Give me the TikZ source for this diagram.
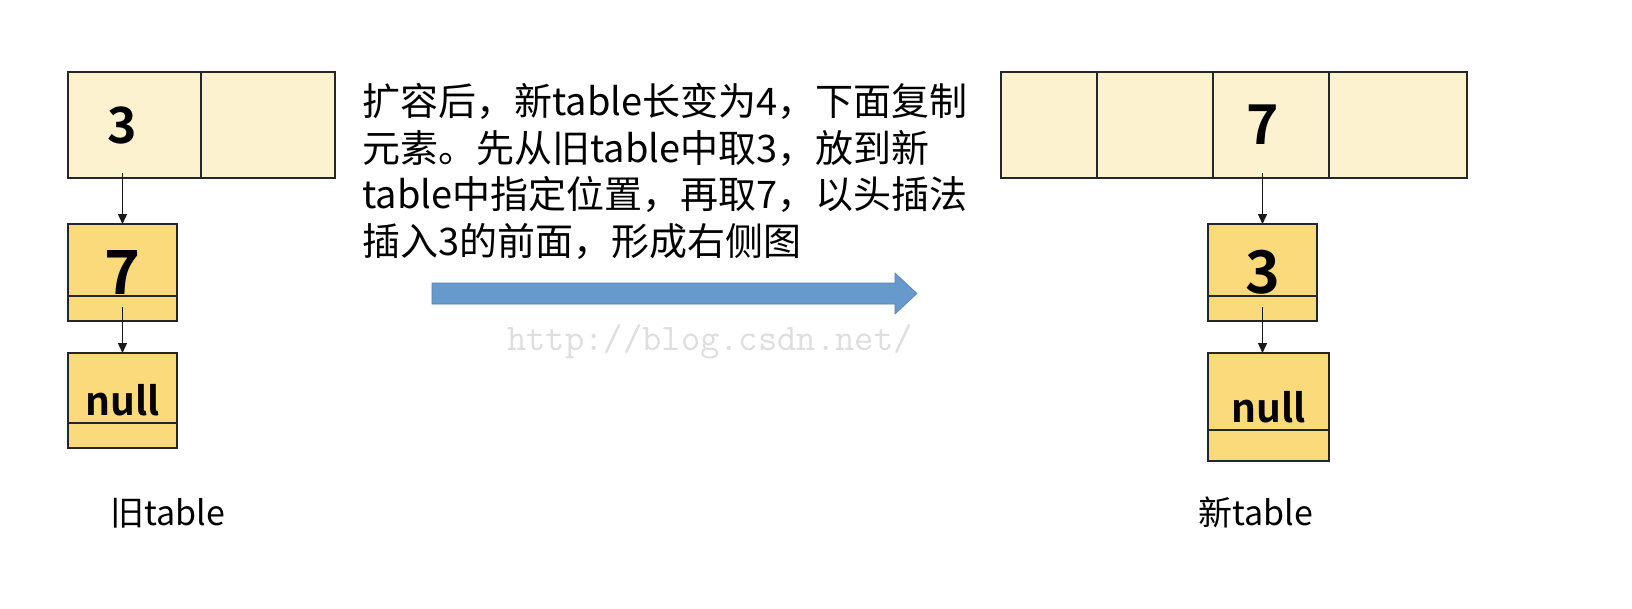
\documentclass[tikz,border=0pt]{standalone}
\usepackage{fontspec}
\setmainfont{Noto Sans CJK SC}[BoldFont={Noto Sans CJK SC Bold}]
\usetikzlibrary{calc,arrows.meta,positioning}

\definecolor{cellfill}{RGB}{253,242,207}
\definecolor{entryfill}{RGB}{250,218,122}
\definecolor{arrowblue}{RGB}{102,153,204}

\begin{document}
\begin{tikzpicture}[x=1pt, y=-1pt, >={Triangle[length=10pt,width=9pt]},
		cell/.style={draw=black!85, line width=2pt, fill=cellfill, outer sep=0pt, inner sep=0pt, minimum height=106pt, anchor=north west},
		entry/.style={draw=black!85, line width=2pt, fill=entryfill, outer sep=0pt, inner sep=0pt, minimum width=109pt, anchor=north west, font=\bfseries\fontsize{61}{61}\selectfont},
		num/.style={font=\bfseries\fontsize{50}{50}\selectfont, inner sep=0pt},
		link/.style={->, line width=1.4pt, black!90},
		caption/.style={anchor=base west, inner sep=0pt, font=\fontsize{34}{34}\selectfont}]
	% Parameters
	\def\cut{25} % afstand van de scheidingslijn tot de onderkant

	\fill[white] (0,0) rectangle (1632,608);
	\useasboundingbox (0,0) rectangle (1632,608);

	% --- Oude tabel ---
	\node[cell, minimum width=133pt] (o1) at (68,72) {};
	\node[cell, minimum width=134pt, right=0pt of o1] (o2) {};

	\node[entry, minimum height=97pt] (e7) at (68,224) {7};
	\node[entry, minimum height=95pt, font=\bfseries\fontsize{39}{39}\selectfont] (nl) at (68,353) {null};
	\node[num] (k3) at (e7.north |- o1.center) {3};

	\draw[link] ($(e7.north |- o1.south)+(0,-5)$) -- (e7.north);
	\draw[link] ($(e7.south)+(0,-14)$) -- (nl.north);

	\node[caption] (oldname) at (110,525) {旧table};

	% --- Uitleg en pijl ---
	% base = basislijn van de laatste regel
	\node[anchor=base west, align=left, inner sep=0pt, font=\fontsize{38}{46.5}\selectfont] (note) at (362,255)
	{扩容后，新table长变为4，下面复制\\元素。先从旧table中取3，放到新\\table中指定位置，再取7，以头插法\\插入3的前面，形成右侧图};

	% blauwe pijl: schacht 21 hoog, kop 41 hoog
	\filldraw[fill=arrowblue, draw=arrowblue!85!black, line width=0.6pt]
	(432,283) -- (895,283) -- (895,273) -- (917,293.5) -- (895,314) -- (895,304) -- (432,304) -- cycle;

	\node[anchor=base west, inner sep=0pt, text=black!13, font=\ttfamily\fontsize{37.5}{37.5}\selectfont] (mark) at (507,350) {http://blog.csdn.net/};

	% --- Nieuwe tabel ---
	\node[cell, minimum width=96pt] (n1) at (1001,72) {};
	\foreach \i/\w [remember=\i as \p (initially 1)] in {2/116, 3/116, 4/138} {
			\node[cell, minimum width=\w pt, right=0pt of n\p] (n\i) {};
		}

	\node[entry, minimum height=97pt, font=\bfseries\fontsize{59}{59}\selectfont] (e3) at (1208,224) {3};
	\node[entry, minimum width=121pt, minimum height=108pt, font=\bfseries\fontsize{39}{39}\selectfont] (nr) at (1208,353) {null};
	\node[num, font=\bfseries\fontsize{55}{55}\selectfont] (k7) at (e3.north |- n3.center) {7};

	\draw[link] ($(e3.north |- n3.south)+(0,-5)$) -- (e3.north);
	\draw[link] ($(e3.south)+(0,-14)$) -- (e3.south |- nr.north);

	\node[caption] (newname) at (1198,525) {新table};

	% Scheidingslijnen in de elementen
	\foreach \b/\d in {e7/\cut, nl/\cut, e3/\cut, nr/31} {
			\draw[black!85, line width=2pt] ([yshift=\d pt]\b.south west) -- ([yshift=\d pt]\b.south east);
		}

\end{tikzpicture}
\end{document}
